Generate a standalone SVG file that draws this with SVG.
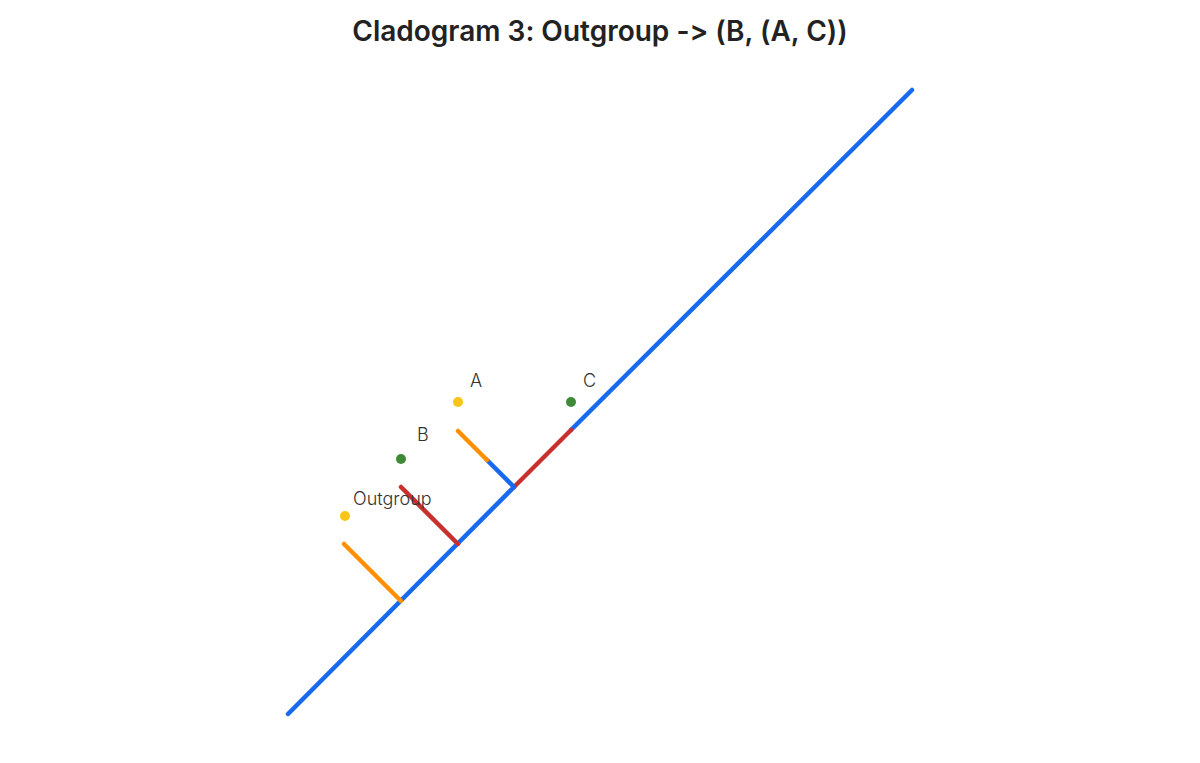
<svg xmlns="http://www.w3.org/2000/svg" width="1200" height="763" viewBox="0 0 1200 763">
<style>
.t{font-family:Inter,"Noto Sans",sans-serif;font-size:28px;font-weight:600;fill:#222;text-anchor:middle;font-feature-settings:"calt" 0;font-variant-ligatures:none}
.l{font-family:Inter,"Noto Sans",sans-serif;font-size:18px;font-weight:300;fill:#333}
line{stroke-width:4.5;stroke-linecap:round}
.b{stroke:#1769f0}.o{stroke:#ff8f00}.r{stroke:#c8302e}
.y{fill:#f7c518}.g{fill:#3f8a36}
</style>
<rect width="1200" height="763" fill="#fff"/>
<text class="t" x="600" y="41">Cladogram 3: Outgroup -&gt; (B, (A, C))</text>
<g id="connectors">
<line class="b" x1="288" y1="714" x2="514" y2="487"/>
<line class="b" x1="571" y1="430" x2="912" y2="90"/>
<line class="r" x1="514" y1="487" x2="571" y2="430"/>
<line class="o" x1="401" y1="601" x2="344" y2="544"/>
<line class="r" x1="458" y1="544" x2="401" y2="487"/>
<line class="b" x1="514" y1="487" x2="487" y2="460"/>
<line class="o" x1="487" y1="460" x2="458" y2="431"/>
</g>
<g id="outgroup"><circle class="y" cx="345" cy="516" r="5"/><text class="l" x="353" y="505">Outgroup</text></g>
<g id="B"><circle class="g" cx="401" cy="459" r="5"/><text class="l" x="417" y="441">B</text></g>
<g id="A"><circle class="y" cx="458" cy="402" r="5"/><text class="l" x="470" y="387">A</text></g>
<g id="C"><circle class="g" cx="571" cy="402" r="5"/><text class="l" x="583" y="387">C</text></g>
</svg>
